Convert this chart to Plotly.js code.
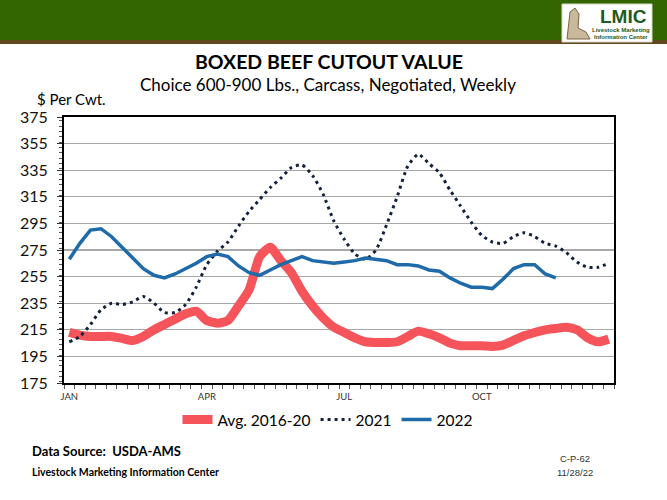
<!DOCTYPE html>
<html>
<head>
<meta charset="utf-8">
<script src="https://cdn.plot.ly/plotly-3.0.1.min.js"></script>
<style>
  html, body { margin: 0; padding: 0; background: #ffffff; }
  #chart { width: 667px; height: 500px; }
</style>
</head>
<body>
<div id="chart"></div>
<script>
// Boxed beef cutout, Choice 600-900 lbs, weekly ($ per cwt)
const weekCount = 52;
const monthLabels = ['JAN', 'APR', 'JUL', 'OCT'];
const monthWeeks = [1, 14, 27, 40];

const avg2016_20 = [
  213, 211, 210, 210, 210, 208.5, 207, 210, 215, 219,
  223, 227, 229, 222, 220, 222, 233, 245, 270, 277,
  267, 258, 244, 233, 224, 217, 213, 209, 206, 205.5,
  205.5, 206, 210, 214, 212, 209, 205, 203, 203, 203,
  202.5, 203.5, 207, 210.5, 213, 215, 216, 217, 215, 209,
  206, 208
];

const y2021 = [
  206, 210, 219, 230, 235, 234, 236, 240, 235, 228,
  228, 234, 247, 264, 274, 281, 293, 304, 313, 322,
  329, 337, 339, 331, 317, 297, 283, 272, 268, 275,
  294, 315, 338, 347, 340, 333, 320, 308, 296, 286,
  281, 280, 285, 288, 285, 280, 278, 273, 266, 262,
  262, 265
];

const y2022 = [
  268, 280, 290, 291, 285, 277, 269, 261, 256, 254,
  257, 261, 265, 270, 272, 270, 263, 258, 256, 260,
  264, 267, 270, 267, 266, 265, 266, 267, 269, 268,
  267, 264, 264, 263, 260, 259, 254, 250, 247, 247,
  246, 253, 261, 264, 264, 257, 254
];

const seriesNames = ['Avg. 2016-20', '2021', '2022'];

function weeksFor(values) {
  const w = [];
  for (let i = 0; i < values.length; i++) w.push(i + 1);
  return w;
}

// plot-area edges in page pixels, used to place decorations in paper units
const L = 64, R = 614, T = 117, B = 383;
const fx = x => (x - L) / (R - L);
const fy = y => (B - y) / (B - T);

const FONT = 'Lato, "Open Sans", sans-serif';
const SANS = '"Liberation Sans", Arial, sans-serif';

const traces = [
  {
    x: weeksFor(avg2016_20), y: avg2016_20, name: seriesNames[0],
    type: 'scatter', mode: 'lines',
    line: { color: '#F4545A', width: 9, shape: 'spline', smoothing: 0.6 }
  },
  {
    x: weeksFor(y2021), y: y2021, name: seriesNames[1],
    type: 'scatter', mode: 'lines',
    line: { color: '#14213D', width: 3, dash: '3px,4px', shape: 'spline', smoothing: 0.6 }
  },
  {
    x: weeksFor(y2022), y: y2022, name: seriesNames[2],
    type: 'scatter', mode: 'lines',
    line: { color: '#1F6AA8', width: 3.5 }
  }
];

const shapes = [
  // header band and rule
  { type: 'rect', xref: 'paper', yref: 'paper', x0: fx(0), x1: fx(667), y0: fy(0), y1: fy(40),
    fillcolor: '#336600', line: { width: 0 }, layer: 'below' },
  { type: 'rect', xref: 'paper', yref: 'paper', x0: fx(0), x1: fx(667), y0: fy(40), y1: fy(44),
    fillcolor: '#5E4A1C', line: { width: 0 }, layer: 'below' },
  // logo card
  { type: 'rect', xref: 'paper', yref: 'paper', x0: fx(562), x1: fx(652), y0: fy(4), y1: fy(42),
    fillcolor: '#FFFFFF', line: { color: '#d8d8c8', width: 1 }, layer: 'below' },
  { type: 'path', xref: 'paper', yref: 'paper', layer: 'above',
    path: 'M ' + fx(567) + ' ' + fy(39) + ' L ' + fx(570) + ' ' + fy(12) + ' L ' + fx(575) + ' ' + fy(8) +
          ' L ' + fx(579) + ' ' + fy(14) + ' L ' + fx(578) + ' ' + fy(28) + ' L ' + fx(586) + ' ' + fy(32) +
          ' L ' + fx(590) + ' ' + fy(39) + ' Z',
    fillcolor: '#C9B89A', line: { color: '#7A6446', width: 1 } }
];

const annotations = [
  { text: '<b>BOXED BEEF CUTOUT VALUE</b>', x: fx(329), y: fy(62), xref: 'paper', yref: 'paper',
    xanchor: 'center', yanchor: 'middle', showarrow: false,
    font: { family: FONT, size: 19.5, color: '#000000' } },
  { text: 'Choice 600-900 Lbs., Carcass, Negotiated, Weekly', x: fx(328), y: fy(84), xref: 'paper', yref: 'paper',
    xanchor: 'center', yanchor: 'middle', showarrow: false,
    font: { family: FONT, size: 17, color: '#000000' } },
  { text: '$ Per Cwt.', x: fx(35), y: fy(99), xref: 'paper', yref: 'paper',
    xanchor: 'left', yanchor: 'middle', showarrow: false,
    font: { family: FONT, size: 15, color: '#000000' } },
  { text: '<b>LMIC</b>', x: fx(624), y: fy(16), xref: 'paper', yref: 'paper',
    xanchor: 'center', yanchor: 'middle', showarrow: false,
    font: { family: SANS, size: 19, color: '#1E5A1E' } },
  { text: '<b>Livestock Marketing</b>', x: fx(621), y: fy(30), xref: 'paper', yref: 'paper',
    xanchor: 'center', yanchor: 'middle', showarrow: false,
    font: { family: SANS, size: 6, color: '#1E5A1E' } },
  { text: '<b>Information Center</b>', x: fx(621), y: fy(37), xref: 'paper', yref: 'paper',
    xanchor: 'center', yanchor: 'middle', showarrow: false,
    font: { family: SANS, size: 6, color: '#1E5A1E' } },
  { text: '<b>Data Source:  USDA-AMS</b>', x: fx(30), y: fy(451), xref: 'paper', yref: 'paper',
    xanchor: 'left', yanchor: 'middle', showarrow: false,
    font: { family: FONT, size: 13, color: '#000000' } },
  { text: '<b>Livestock Marketing Information Center</b>', x: fx(30), y: fy(472), xref: 'paper', yref: 'paper',
    xanchor: 'left', yanchor: 'middle', showarrow: false,
    font: { family: FONT, size: 10.5, color: '#000000' } },
  { text: 'C-P-62', x: fx(575), y: fy(459), xref: 'paper', yref: 'paper',
    xanchor: 'center', yanchor: 'middle', showarrow: false,
    font: { family: SANS, size: 9.5, color: '#333333' } },
  { text: '11/28/22', x: fx(575), y: fy(472), xref: 'paper', yref: 'paper',
    xanchor: 'center', yanchor: 'middle', showarrow: false,
    font: { family: SANS, size: 9.5, color: '#333333' } }
];

const layout = {
  width: 667, height: 500,
  margin: { l: L, r: 667 - R, t: T, b: 500 - B, pad: 0 },
  paper_bgcolor: '#FFFFFF', plot_bgcolor: '#FFFFFF',
  showlegend: true,
  legend: {
    orientation: 'h', x: fx(328), y: fy(420), xanchor: 'center', yanchor: 'middle',
    font: { family: FONT, size: 15.5, color: '#000000' },
    itemgap: 6, bgcolor: 'rgba(0,0,0,0)'
  },
  xaxis: {
    range: [0.5, weekCount + 0.5],
    tickmode: 'array', tickvals: monthWeeks, ticktext: monthLabels,
    ticks: '', showgrid: false, zeroline: false,
    showline: true, linecolor: '#000000', linewidth: 2, mirror: true,
    tickfont: { family: FONT, size: 9.5, color: '#333333' },
    ticklabelstandoff: 4,
    minor: { tick0: 0.5, dtick: 1, ticks: 'outside', ticklen: 4, tickcolor: '#555555', showgrid: false },
    fixedrange: true
  },
  yaxis: {
    range: [175, 375], tick0: 175, dtick: 20,
    ticks: 'outside', ticklen: 5, tickcolor: '#333333',
    showgrid: true, gridcolor: '#A8A8A8', gridwidth: 1.2,
    zeroline: false,
    showline: true, linecolor: '#000000', linewidth: 2, mirror: true,
    tickfont: { family: FONT, size: 16, color: '#111111' },
    ticklabelstandoff: 6,
    minor: { dtick: 4, ticks: 'outside', ticklen: 3, tickcolor: '#555555', showgrid: false },
    fixedrange: true
  },
  shapes: shapes,
  annotations: annotations
};

Plotly.newPlot('chart', traces, layout, { staticPlot: true, displayModeBar: false });
</script>
</body>
</html>
